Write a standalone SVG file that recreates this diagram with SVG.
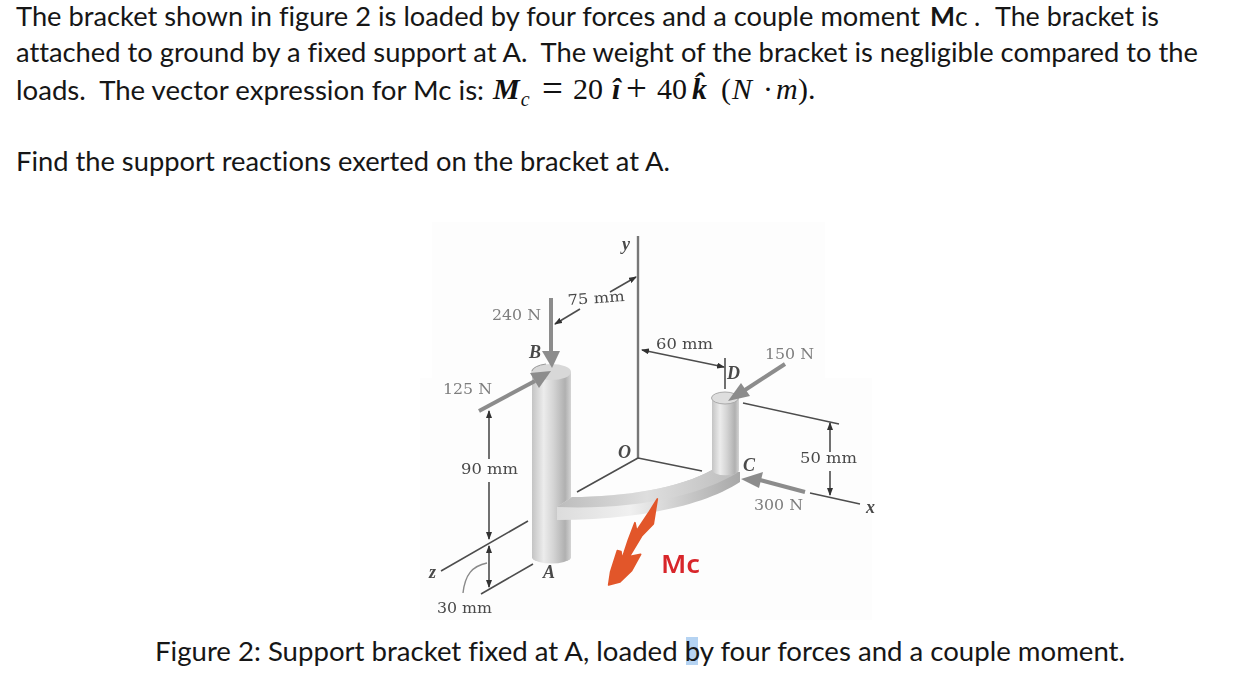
<svg xmlns="http://www.w3.org/2000/svg" width="1252" height="698" viewBox="0 0 1252 698">
<style>
.t{font-family:"Lato","Open Sans",sans-serif;font-size:26.500px;fill:#161616;font-variant-ligatures:none}
.m{font-family:"Liberation Serif",serif;font-size:30px;fill:#111}
.o{font-family:"Liberation Serif",serif;font-size:37px;fill:#111}
.l{font-family:"DejaVu Serif",serif;font-size:14.500px;fill:#7d7d7d}
.d{font-family:"DejaVu Serif",serif;font-size:14.500px;fill:#4a4a4a}
.s{font-family:"Liberation Serif",serif;font-size:18px;fill:#4a4a4a;font-style:italic;font-weight:bold}
.i{font-style:italic;font-weight:bold}
.ln{stroke:#4d4d4d;stroke-width:1.6;fill:none}
.f{stroke:#8c8c8c;stroke-width:4;fill:none}
</style>
<defs>
<filter id="b" x="-5%" y="-5%" width="110%" height="110%"><feGaussianBlur stdDeviation="0.75"/></filter>
<linearGradient id="cy"><stop offset="0" stop-color="#c4c4c4"/><stop offset=".3" stop-color="#ececec"/><stop offset=".55" stop-color="#d4d4d4"/><stop offset=".85" stop-color="#b0b0b0"/><stop offset="1" stop-color="#d4d4d4"/></linearGradient>
<linearGradient id="bar"><stop offset="0" stop-color="#dcdcdc"/><stop offset=".4" stop-color="#f0f0f0"/><stop offset=".75" stop-color="#c4c4c4"/><stop offset="1" stop-color="#a8a8a8"/></linearGradient>
<linearGradient id="tp"><stop offset="0" stop-color="#bcbcbc"/><stop offset=".5" stop-color="#dedede"/><stop offset="1" stop-color="#bdbdbd"/></linearGradient>
<marker id="a" markerWidth="8" markerHeight="6" refX="7" refY="3" orient="auto-start-reverse" markerUnits="userSpaceOnUse"><path d="M0 0L8 3L0 6Z" fill="#333"/></marker>
</defs>
<rect width="1252" height="698" fill="#fff"/>
<rect x="686" y="637" width="12" height="28" fill="#b5d3f2"/>

<g id="statement">
<text class="t" x="16" y="26" textLength="904" lengthAdjust="spacingAndGlyphs">The bracket shown in figure 2 is loaded by four forces and a couple moment</text>
<text class="t" x="930" y="26"><tspan font-weight="bold">M</tspan>c</text>
<text class="t" x="974" y="26">.</text>
<text class="t" x="995" y="26" textLength="164" lengthAdjust="spacingAndGlyphs">The bracket is</text>
<text class="t" x="16" y="62" textLength="1182" lengthAdjust="spacingAndGlyphs">attached to ground by a fixed support at A.&#160; The weight of the bracket is negligible compared to the</text>
<text class="t" x="16" y="100" textLength="468" lengthAdjust="spacingAndGlyphs">loads.&#160; The vector expression for Mc is:</text>
<text class="m i" x="493" y="99">M<tspan dy="7" dx="1" font-size="20" font-weight="normal">c</tspan></text>
<text class="o" x="542" y="101">=</text>
<text class="m" x="573" y="99">20</text>
<text class="m i" x="612" y="99">î</text>
<text class="o" x="626" y="101">+</text>
<text class="m" x="657" y="99">40</text>
<text class="m i" x="692" y="99">k̂</text>
<text class="m" x="721" y="99">(</text>
<text class="m" x="732" y="99" font-style="italic">N</text>
<text class="m" x="763" y="99">·</text>
<text class="m" x="776" y="99" font-style="italic">m</text>
<text class="m" x="798" y="99">).</text>
<text class="t" x="16" y="171" textLength="654" lengthAdjust="spacingAndGlyphs">Find the support reactions exerted on the bracket at A.</text>
</g>

<g id="figure" filter="url(#b)">
<path d="M432 222H825V378H872V620H420V378H432Z" fill="#fdfdfd"/>
<g id="connectors">
<path d="M638 236V458" stroke="#777" stroke-width="2.4" fill="none"/>
<path class="ln" d="M638 458L577 492M638 458L702 471"/>
<path class="ln" d="M528 521L441 571M533 564L481 594"/>
<path class="ln" d="M743 403L839 424M810 493L860 504"/>
<path class="ln" d="M725 358V389"/>
<path class="ln" marker-end="url(#a)" d="M610 292L636 277"/>
<path class="ln" marker-end="url(#a)" d="M580 309L555 324"/>
<path class="ln" marker-start="url(#a)" marker-end="url(#a)" d="M642 350L724 367"/>
<path class="ln" marker-start="url(#a)" d="M489 411V459"/>
<path class="ln" marker-end="url(#a)" d="M489 482V539"/>
<path class="ln" marker-start="url(#a)" marker-end="url(#a)" d="M489 546V587"/>
<path class="ln" marker-start="url(#a)" d="M830 423V452"/>
<path class="ln" marker-end="url(#a)" d="M830 471V495"/>
<path d="M463 593C465 575 472 566 487 563" stroke="#8a8a8a" stroke-width="1.4" fill="none"/>
</g>
<g id="post-b">
<path d="M532 372V558A20 7 0 0 0 571 558V372Z" fill="url(#cy)"/>
<ellipse cx="551" cy="372" rx="20" ry="8" fill="#d8d8d8"/>
<path d="M532 371A20 8 0 0 1 546 364" stroke="#999" fill="none"/>
</g>
<g id="arm">
<path d="M572 497C625 497 680 488 712 470L740 472V482C705 505 640 520 557 520V507Z" fill="url(#bar)"/>
<path d="M557 507L572 497C625 497 680 488 712 470L737 473C700 495 640 510 557 507Z" fill="url(#tp)"/>
</g>
<g id="post-d">
<path d="M712 398V470A13 5 0 0 0 739 470V398Z" fill="url(#cy)"/>
<ellipse cx="725" cy="398" rx="13.500" ry="6" fill="#dedede" stroke="#aaa" stroke-width="1"/>
</g>
<g id="forces" fill="#8c8c8c">
<path class="f" d="M551 298V352"/><path d="M542 351H560L552 368Z"/>
<path class="f" d="M479 411L535 381"/><path d="M530 373L539 388L551 371Z"/>
<path class="f" d="M785 364L745 390"/><path d="M741 383L750 396L728 401Z"/>
<path class="f" d="M805 492L760 480"/><path d="M763 472L759 488L741 479Z"/>
</g>
<path id="mc-arrow" transform="translate(420 400) scale(.3333)" fill="#e2572b" stroke="#e2572b" stroke-width="5" stroke-linejoin="round" d="M712 297L705 340L700 372L665 408L628 470L662 463L635 512L600 546L566 555L572 515L592 452L603 455L606 478L625 420L645 368L650 392L685 340Z"/>
<g id="labels">
<text class="l" x="492" y="320" textLength="49" lengthAdjust="spacingAndGlyphs">240 N</text>
<text class="l" x="443" y="394" textLength="49" lengthAdjust="spacingAndGlyphs">125 N</text>
<text class="d" x="568" y="305" textLength="57" lengthAdjust="spacingAndGlyphs" transform="rotate(-4 568 305)">75 mm</text>
<text class="d" x="656" y="349" textLength="57" lengthAdjust="spacingAndGlyphs">60 mm</text>
<text class="l" x="765" y="359" textLength="49" lengthAdjust="spacingAndGlyphs">150 N</text>
<text class="d" x="800" y="463" textLength="57" lengthAdjust="spacingAndGlyphs">50 mm</text>
<text class="l" x="754" y="510" textLength="49" lengthAdjust="spacingAndGlyphs">300 N</text>
<text class="d" x="461" y="474" textLength="57" lengthAdjust="spacingAndGlyphs">90 mm</text>
<text class="d" x="437" y="613" textLength="55" lengthAdjust="spacingAndGlyphs">30 mm</text>
<text class="s" x="529" y="358">B</text>
<text class="s" x="727" y="379">D</text>
<text class="s" x="743" y="471">C</text>
<text class="s" x="618" y="458">O</text>
<text class="s" x="543" y="578" font-size="15">A</text>
<text class="s" x="622" y="250">y</text>
<text class="s" x="866" y="513">x</text>
<text class="s" x="429" y="578" font-size="15">z</text>
</g>
<text x="661" y="573" font-family="Noto Sans,sans-serif" font-size="26" font-weight="600" fill="#d8262c" textLength="39" lengthAdjust="spacingAndGlyphs">Mc</text>
</g>

<text class="t" x="155" y="661" textLength="970" lengthAdjust="spacingAndGlyphs">Figure 2: Support bracket fixed at A, loaded by four forces and a couple moment.</text>
</svg>
